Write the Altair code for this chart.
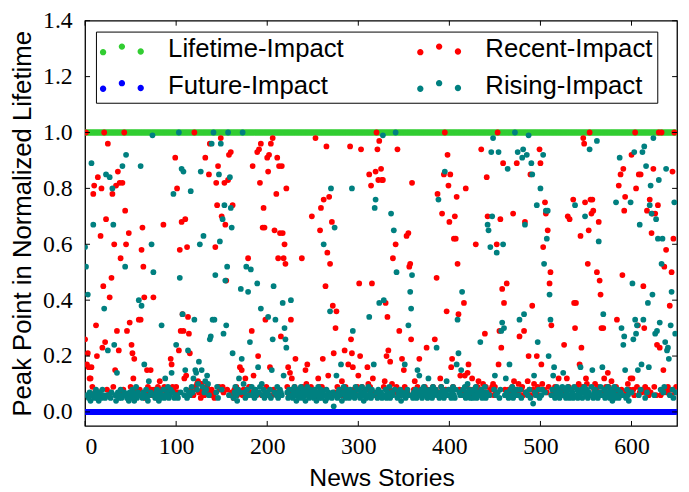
import altair as alt
import pandas as pd

# ---------------- data (in hundredths for the two scattered series) ----
stories = list(range(650))
lifetime_peak = [1.0] * 650
future_peak = [0.0] * 650

recent_rows = [
    [26,100,17,21,16,12,12,16,9,78,81,7,31,20,84,6,7,63,80,23,45,100,25,69,8],
    [96,6,41,7,48,78,9,60,15,81,29,86,22,82,55,7,82,8,100,72,60,29,5,64,32],
    [9,24,21,12,19,7,6,6,8,33,8,33,58,66,52,41,5,6,15,9,7,7,15,8,6],
    [41,8,7,6,5,9,7,11,8,6,6,67,9,8,7,6,8,6,7,19,17,9,8,7,91],
    [9,80,7,22,58,29,68,35,29,12,69,13,59,34,28,21,8,7,6,6,100,9,8,10,11],
    [7,7,5,10,8,6,6,91,9,9,7,85,96,6,8,7,6,5,59,82,74,88,9,8,98],
    [70,9,7,82,67,47,8,83,92,6,93,7,74,5,8,6,9,6,8,7,16,7,15,6,8],
    [8,12,6,6,55,9,9,7,29,88,13,8,7,6,93,20,94,82,96,6,66,73,66,33,9],
    [91,86,92,16,96,6,98,8,65,7,78,91,55,88,64,27,88,64,55,60,53,80,9,16,6],
    [14,33,12,7,7,9,19,6,8,8,6,7,7,55,9,6,6,15,10,17,8,7,6,9,70],
    [8,6,6,98,5,7,12,9,65,73,9,19,76,8,45,95,57,13,77,53,6,68,38,21,7],
    [30,36,9,7,7,6,8,11,8,6,22,9,7,7,17,6,95,26,21,16,8,7,8,6,9],
    [13,46,20,94,9,7,7,6,8,8,16,10,85,9,81,46,12,7,6,86,100,94,83,97,7],
    [87,83,83,9,11,39,20,34,22,8,18,7,10,55,7,8,60,9,94,6,29,6,7,19,8],
    [15,9,7,63,7,64,52,53,26,82,6,8,11,6,8,9,7,19,6,7,8,6,6,9,8],
    [23,8,7,7,6,8,6,9,7,26,8,48,78,6,7,12,9,71,7,85,100,8,36,92,81],
    [68,85,16,19,9,62,70,62,77,53,35,8,13,6,7,7,39,13,80,9,14,17,7,8,6],
    [12,8,6,7,60,9,9,11,8,8,94,6,10,7,28,9,84,70,7,6,8,8,9,10,6],
    [9,7,60,100,17,29,69,23,44,89,39,8,6,46,7,8,6,6,7,9,71,11,8,8,89],
    [7,10,27,8,8,9,6,29,68,7,7,11,20,8,85,6,38,8,10,7,7,20,9,6,94],
    [89,17,10,59,8,75,71,7,65,9,46,50,31,6,7,8,9,6,6,7,12,8,8,7,6],
    [8,24,7,7,12,70,9,69,8,8,6,76,39,30,39,9,6,10,17,63,23,9,98,96,75],
    [12,10,53,65,100,76,71,76,72,8,10,8,50,9,68,47,42,30,7,30,12,7,9,7,14],
    [9,7,7,11,8,6,6,8,9,33,7,81,6,85,8,49,87,72,77,7,7,10,7,8,12],
    [92,12,8,6,100,80,9,31,85,7,85,7,8,45,30,9,7,72,8,6,76,7,64,71,87],
    [9,71,6,24,74,100,23,6,100,7,15,52,8,58,7,9,8,38,6,50,86,62,100,7,9],
]

rising_rows = [
    [59,52,6,42,5,7,4,89,6,67,5,7,8,5,6,4,7,6,5,8,6,37,5,85,6],
    [22,6,84,5,7,80,67,24,6,4,14,7,5,6,8,5,88,6,7,52,92,5,6,4,7],
    [6,5,8,7,4,6,9,5,7,40,6,88,38,5,7,17,6,8,5,4,11,6,7,60,99],
    [50,6,5,7,8,6,4,7,5,31,6,8,5,12,6,7,9,5,6,8,14,7,78,5,6],
    [24,6,5,100,48,7,87,35,86,6,15,8,5,22,7,6,79,9,7,12,33,15,14,8,10],
    [18,60,86,15,9,63,7,11,8,13,10,6,26,27,96,33,100,33,49,7,9,5,85,61,96],
    [8,69,28,74,47,31,52,100,6,84,73,66,21,5,7,9,6,4,8,12,7,44,19,100,10],
    [7,5,52,8,43,6,25,51,9,6,7,5,8,6,46,16,7,9,37,10,6,8,5,7,6],
    [7,34,6,8,5,15,26,45,7,33,6,9,5,7,8,7,6,39,13,30,26,23,7,5,8],
    [6,40,8,5,7,9,6,4,7,8,5,6,9,7,5,8,6,4,7,9,6,5,8,7,6],
    [7,5,8,6,4,7,9,5,6,8,5,7,60,6,4,8,5,7,6,36,80,5,7,2,66],
    [6,13,5,7,8,6,17,4,7,9,6,5,8,6,7,5,8,6,80,29,7,5,9,6,8],
    [6,8,5,7,9,6,4,7,8,5,6,9,34,7,5,8,6,17,73,76,7,5,8,39,6],
    [7,5,99,40,6,8,5,7,6,9,5,71,7,6,65,8,100,50,5,7,6,8,4,7,6],
    [6,17,5,7,8,31,6,43,37,49,5,7,6,8,5,15,7,13,6,8,5,7,9,6,8],
    [7,5,12,6,8,7,5,9,6,7,8,23,6,76,5,7,9,6,8,5,86,7,11,6,8],
    [6,8,5,7,9,6,5,8,17,33,21,7,6,15,43,8,6,9,5,7,10,6,8,5,7],
    [7,5,8,6,9,5,7,7,6,25,8,5,7,6,9,5,7,67,65,6,59,93,70,98,8],
    [13,6,57,7,93,5,8,29,32,60,30,6,12,7,87,5,17,8,6,9,5,7,100,6,8],
    [93,6,33,8,5,91,94,35,67,7,92,6,99,8,5,89,85,3,13,7,6,74,25,8,5],
    [80,6,8,92,53,7,72,62,72,20,42,33,6,8,13,16,5,7,9,6,8,5,7,6,9],
    [14,6,8,5,7,9,6,5,8,6,7,5,9,74,6,8,5,7,6,16,8,5,7,9,70],
    [6,8,5,7,94,6,9,15,5,7,8,6,97,5,61,7,9,6,16,35,8,5,7,6,9],
    [7,5,8,6,4,7,9,5,75,6,8,5,91,7,30,6,24,27,15,5,8,6,4,7,75],
    [7,46,26,93,33,28,31,15,6,67,8,17,93,33,95,5,88,7,39,16,74,81,71,42,98],
    [6,28,69,29,62,83,32,8,53,62,7,9,25,87,22,23,19,6,31,43,8,5,75,28,7],
]

recent_peak = [v / 100 for row in recent_rows for v in row]
rising_peak = [v / 100 for row in rising_rows for v in row]

draw_order = ["Lifetime-Impact", "Future-Impact", "Recent-Impact", "Rising-Impact"]
# Vega fills the two-column legend column by column
legend_order = ["Lifetime-Impact", "Future-Impact", "Recent-Impact", "Rising-Impact"]
legend_colors = ["#32cd32", "#0000ff", "#ff0000", "#008080"]

x_tick_values = [0, 100, 200, 300, 400, 500, 600]
y_tick_values = [0.0, 0.2, 0.4, 0.6, 0.8, 1.0, 1.2, 1.4]

# ---------------- build table ----------------
records = []
for name, vals in zip(draw_order, [lifetime_peak, future_peak, recent_peak, rising_peak]):
    for s, v in zip(stories, vals):
        records.append({"story": s, "peak": v, "series": name})
df = pd.DataFrame(records)

W, H = 599, 410
TICK = 5

xscale = alt.Scale(domain=[0, 650], nice=False, zero=False)
yscale = alt.Scale(domain=[-0.05, 1.4], nice=False, zero=False)

x_axis = alt.Axis(
    values=x_tick_values,
    format="d",
    title="News Stories",
    labelFont="Liberation Serif",
    labelFontSize=24,
    labelColor="black",
    labelBaseline="alphabetic",
    labelPadding=28,
    tickSize=0,
    ticks=False,
    domain=False,
    grid=False,
    titleFont="Liberation Sans",
    titleFontSize=25,
    titleFontWeight="normal",
    titleColor="black",
    titleBaseline="alphabetic",
    titleX=300,
    titleY=60,
)
y_axis = alt.Axis(
    values=y_tick_values,
    format=".1f",
    title="Peak Point in Normalized Lifetime",
    labelFont="Liberation Serif",
    labelFontSize=24,
    labelColor="black",
    labelPadding=13,
    tickSize=0,
    ticks=False,
    domain=False,
    grid=False,
    titleFont="Liberation Sans",
    titleFontSize=26,
    titleFontWeight="normal",
    titleColor="black",
    titleBaseline="alphabetic",
    titleX=-55,
    titleY=205,
)


def dots_path(r=0.23):
    # three legend dots, kept inside the symbol's left edge so the legend frame stays put
    pts = [(-0.77, 0.2), (0.59, -0.2), (1.95, 0.15)]
    parts = []
    for cx, cy in pts:
        parts.append(
            f"M{cx - r:.3f},{cy:.3f}A{r},{r} 0 1,0 {cx + r:.3f},{cy:.3f}"
            f"A{r},{r} 0 1,0 {cx - r:.3f},{cy:.3f}Z"
        )
    return " ".join(parts)


points = alt.Chart(df).mark_circle(size=34, opacity=1, clip=True).encode(
    x=alt.X("story:Q", scale=xscale, axis=x_axis),
    y=alt.Y("peak:Q", scale=yscale, axis=y_axis),
    color=alt.Color(
        "series:N",
        scale=alt.Scale(domain=legend_order, range=legend_colors),
        title=None,
        legend=alt.Legend(
            orient="top-left",
            offset=11,
            columns=2,
            padding=4,
            rowPadding=10,
            columnPadding=74,
            labelOffset=41,
            symbolSize=784,
            symbolType=dots_path(),
            symbolStrokeWidth=0,
            symbolOpacity=1,
            labelFont="Liberation Sans",
            labelFontSize=26,
            labelColor="black",
            labelLimit=400,
            titlePadding=0,
            titleFontSize=0,
            fillColor="white",
            strokeColor="black",
        ),
    ),
)

ytick_df = pd.DataFrame({"peak": y_tick_values})
xtick_df = pd.DataFrame({"story": x_tick_values})

ytick_left = alt.Chart(ytick_df).mark_rule(color="black", strokeWidth=1).encode(
    y=alt.Y("peak:Q", scale=yscale, axis=y_axis),
    x=alt.value(0), x2=alt.value(TICK),
)
ytick_right = alt.Chart(ytick_df).mark_rule(color="black", strokeWidth=1).encode(
    y=alt.Y("peak:Q", scale=yscale, axis=y_axis),
    x=alt.value(W - TICK), x2=alt.value(W),
)
xtick_bottom = alt.Chart(xtick_df).mark_rule(color="black", strokeWidth=1).encode(
    x=alt.X("story:Q", scale=xscale, axis=x_axis),
    y=alt.value(H - TICK), y2=alt.value(H),
)
xtick_top = alt.Chart(xtick_df).mark_rule(color="black", strokeWidth=1).encode(
    x=alt.X("story:Q", scale=xscale, axis=x_axis),
    y=alt.value(0), y2=alt.value(TICK),
)

chart = (
    alt.layer(points, ytick_left, ytick_right, xtick_bottom, xtick_top)
    .properties(
        width=W,
        height=H,
        autosize=alt.AutoSizeParams(type="none"),
        padding={"left": 78, "top": 10, "right": 4, "bottom": 64},
        background="white",
    )
    .configure_view(stroke="black", strokeWidth=1.3)
)

chart.save("out.html", embed_options={"renderer": "svg", "actions": False})
